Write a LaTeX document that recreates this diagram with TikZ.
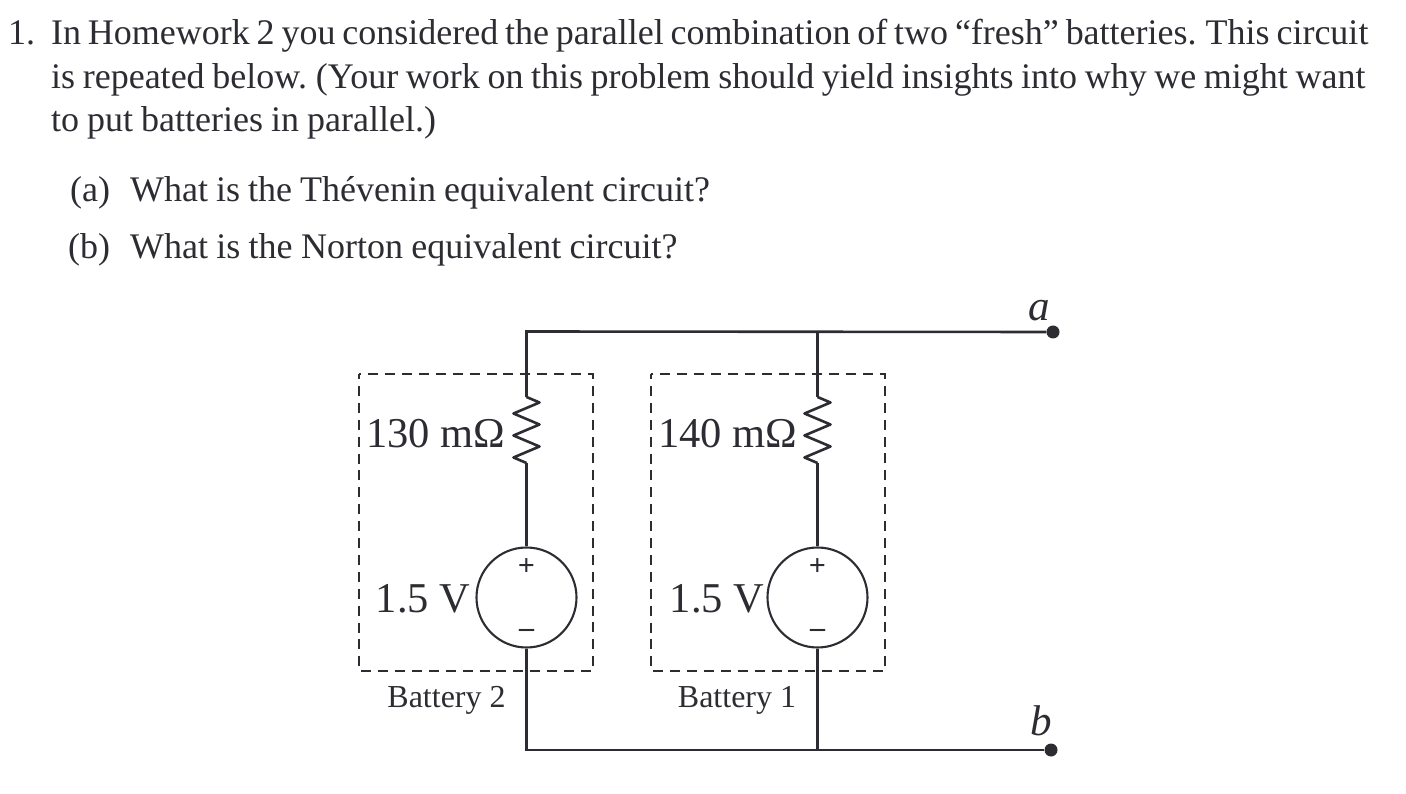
\documentclass[tikz,border=0pt]{standalone}
\usepackage{fontspec}
\setmainfont{Liberation Serif}
\usetikzlibrary{decorations.pathmorphing}
\definecolor{ink}{HTML}{2C2C32}
\newcommand{\tightsp}[1]{\spaceskip=#1pt \xspaceskip=9pt }
\tikzset{
line/.style={anchor=base west, inner sep=0, text=ink, font=\fontsize{36}{44}\selectfont},
val/.style={anchor=base, inner sep=0, text=ink, font=\fontsize{42.5}{44}\selectfont},
batt/.style={anchor=base, inner sep=0, text=ink, font=\fontsize{32}{36}\selectfont},
term/.style={circle, fill=ink, inner sep=0, minimum size=13},
src/.style={circle, draw=ink, line width=2.1, inner sep=0, minimum size=100},
sign/.style={inner sep=0, text=ink, font=\fontsize{30}{30}\selectfont\bfseries},
wire/.style={draw=ink, line width=2.6},
res/.style={wire, decorate, line join=round, decoration={zigzag, segment length=22, amplitude=13}},
box/.style={draw=ink, line width=2.2, dash pattern=on 10 off 6.9, dash phase=5}
}
\begin{document}
\begin{tikzpicture}[x=1pt,y=-1pt]
\useasboundingbox (0,0) rectangle (1406,794);
\node[line] (n) at (8,45) {1.};
\node[line] (l1) at (51,45) {\tightsp{6.8}In Homework 2 you considered the parallel combination of two “fresh” batteries. This circuit};
\node[line] (l2) at (51,89) {\tightsp{7.6}is repeated below. (Your work on this problem should yield insights into why we might want};
\node[line] (l3) at (51,132) {\tightsp{8}to put batteries in parallel.)};
\node[line] (qa) at (70,202) {(a)\hspace{20pt}\tightsp{8}What is the Thévenin equivalent circuit?};
\node[line] (qb) at (68,259) {(b)\hspace{20pt}\tightsp{8.3}What is the Norton equivalent circuit?};
% battery boxes
\draw[box] (359,374) rectangle (593,671);
\draw[box] (651,374) rectangle (885,671);
% sources
\node[src] (v2) at (526.5,597.5) {};
\node[src] (v1) at (817.5,597.5) {};
\node[sign] (p2) at (526.5,567) {+};
\node[sign] (m2) at (526.5,633) {–};
\node[sign] (p1) at (817.5,567) {+};
\node[sign] (m1) at (817.5,633) {–};
% wires
\coordinate (r2t) at (526.5,397);
\coordinate (r2b) at (526.5,463);
\coordinate (r1t) at (817.5,397);
\coordinate (r1b) at (817.5,463);
\coordinate (t2) at (526.5,331.5);
\coordinate (t1) at (817.5,331.5);
\coordinate (b2) at (526.5,750);
\coordinate (b1) at (817.5,750);
\node[term] (a) at (1053,332) {};
\node[term] (b) at (1051,750) {};
\draw[wire] (a) -- (t2) -- (r2t);
\draw[wire] (t1) -- (r1t);
\draw[wire] (b) -- (b2) -- (v2);
\draw[wire] (b1) -- (v1);
\draw[wire] (r2b) -- (v2);
\draw[wire] (r1b) -- (v1);
\draw[res] (r2t) -- (r2b);
\draw[res] (r1t) -- (r1b);
% labels
\node[val] (r2l) at (436,447) {130 mΩ};
\node[val] (r1l) at (728,447) {140 mΩ};
\node[val] (v2l) at (423,612) {1.5 V};
\node[val] (v1l) at (717,612) {1.5 V};
\node[batt] (b2l) at (446.5,707) {Battery 2};
\node[batt] (b1l) at (737,707) {Battery 1};
\node[val, font=\fontsize{43}{44}\selectfont\itshape] (al) at (1039,321) {a};
\node[val, font=\fontsize{43}{44}\selectfont\itshape] (bl) at (1041,735) {b};
\end{tikzpicture}
\end{document}
